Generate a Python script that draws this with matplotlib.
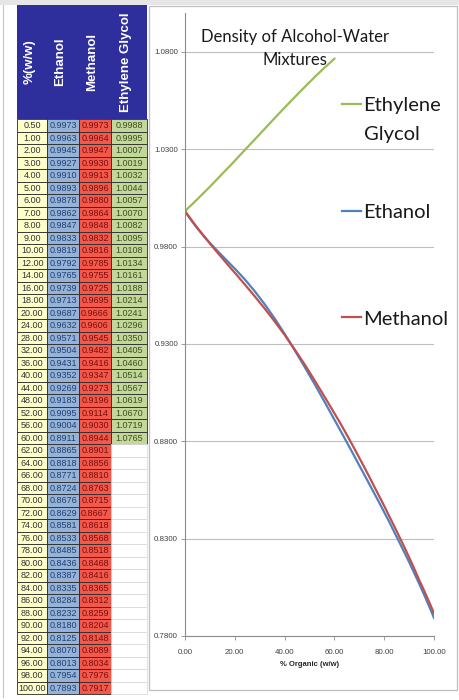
import matplotlib
matplotlib.use("Agg")
import matplotlib.pyplot as plt
from matplotlib.patches import Rectangle
from matplotlib.ticker import FormatStrFormatter

pct = [0.5, 1, 2, 3, 4, 5, 6, 7, 8, 9, 10, 12, 14, 16, 18, 20, 24, 28, 32, 36,
       40, 44, 48, 52, 56, 60, 62, 64, 66, 68, 70, 72, 74, 76, 78, 80, 82, 84,
       86, 88, 90, 92, 94, 96, 98, 100]
ethanol = [0.9973, 0.9963, 0.9945, 0.9927, 0.9910, 0.9893, 0.9878, 0.9862,
           0.9847, 0.9833, 0.9819, 0.9792, 0.9765, 0.9739, 0.9713, 0.9687,
           0.9632, 0.9571, 0.9504, 0.9431, 0.9352, 0.9269, 0.9183, 0.9095,
           0.9004, 0.8911, 0.8865, 0.8818, 0.8771, 0.8724, 0.8676, 0.8629,
           0.8581, 0.8533, 0.8485, 0.8436, 0.8387, 0.8335, 0.8284, 0.8232,
           0.8180, 0.8125, 0.8070, 0.8013, 0.7954, 0.7893]
methanol = [0.9973, 0.9964, 0.9947, 0.9930, 0.9913, 0.9896, 0.9880, 0.9864,
            0.9848, 0.9832, 0.9816, 0.9785, 0.9755, 0.9725, 0.9695, 0.9666,
            0.9606, 0.9545, 0.9482, 0.9416, 0.9347, 0.9273, 0.9196, 0.9114,
            0.9030, 0.8944, 0.8901, 0.8856, 0.8810, 0.8763, 0.8715, 0.8667,
            0.8618, 0.8568, 0.8518, 0.8468, 0.8416, 0.8365, 0.8312, 0.8259,
            0.8204, 0.8148, 0.8089, 0.8034, 0.7976, 0.7917]
glycol = [0.9988, 0.9995, 1.0007, 1.0019, 1.0032, 1.0044, 1.0057, 1.0070,
          1.0082, 1.0095, 1.0108, 1.0134, 1.0161, 1.0188, 1.0214, 1.0241,
          1.0296, 1.0350, 1.0405, 1.0460, 1.0514, 1.0567, 1.0619, 1.0670,
          1.0719, 1.0765]
headers = ["%(w/w)", "Ethanol", "Methanol", "Ethylene Glycol"]
x_ticks = [0, 20, 40, 60, 80, 100]
y_ticks = [0.78, 0.83, 0.88, 0.93, 0.98, 1.03, 1.08]

W, H = 460, 700
fig = plt.figure(figsize=(W / 100, H / 100), dpi=100)

# ---- spreadsheet table (pixel coordinates) ----
tab = fig.add_axes([0, 0, 1, 1])
tab.set_xlim(0, W)
tab.set_ylim(H, 0)
tab.axis("off")

tab.add_patch(Rectangle((0, 0), W, 5, color="#e6e6e6", lw=0))
tab.plot([3, 3], [5, 697], color="#c8c8c8", lw=0.8)

col_edges = [17, 47.5, 79, 111, 147]
fills = ["#ffffcc", "#95b3d7", "#f2594b", "#c4d79b"]
txt_cols = ["#333333", "#203f75", "#7a0c0c", "#3b4f1c"]
row_top, row_h = 119, 12.5
head_top = 5

tab.add_patch(Rectangle((col_edges[0], head_top), col_edges[-1] - col_edges[0],
                        row_top - head_top, color="#2e2e9c", lw=0))
for j, name in enumerate(headers):
    cx = (col_edges[j] + col_edges[j + 1]) / 2 - 3
    tab.text(cx, (head_top + row_top) / 2, name, rotation=90, color="white",
             fontsize=9.5, fontweight="bold", ha="center", va="center",
             family="Liberation Sans")

columns = [pct, ethanol, methanol, glycol]
for i in range(len(pct)):
    y0 = row_top + i * row_h
    for j, col in enumerate(columns):
        x0, x1 = col_edges[j], col_edges[j + 1]
        if i < len(col):
            tab.add_patch(Rectangle((x0, y0), x1 - x0, row_h, facecolor=fills[j],
                                    edgecolor="#2a2a2a", lw=0.6))
            label = "%.2f" % col[i] if j == 0 else "%.4f" % col[i]
            tab.text((x0 + x1) / 2, y0 + row_h / 2 + 0.5, label, color=txt_cols[j],
                     fontsize=6.5, ha="center", va="center",
                     family="Liberation Sans")
        else:
            tab.add_patch(Rectangle((x0, y0), x1 - x0, row_h, facecolor="white",
                                    edgecolor="#dadada", lw=0.6))

# chart area frame
tab.add_patch(Rectangle((149, 6), 308, 684, facecolor="white",
                        edgecolor="#bfbfbf", lw=0.9))

# ---- chart ----
ax = fig.add_axes([185 / W, 1 - 636 / H, (434 - 185) / W, (636 - 13) / H])
ax.set_facecolor("none")
l_eg, = ax.plot(pct[:len(glycol)], glycol, color="#9bbb59", lw=1.6)
l_et, = ax.plot(pct, ethanol, color="#4f81bd", lw=1.6)
l_me, = ax.plot(pct, methanol, color="#c0504d", lw=1.6)

ax.set_xlim(0, 100)
ax.set_ylim(0.78, 1.10)
ax.set_xticks(x_ticks)
ax.set_yticks(y_ticks)
ax.xaxis.set_major_formatter(FormatStrFormatter("%.2f"))
ax.yaxis.set_major_formatter(FormatStrFormatter("%.4f"))
ax.grid(axis="y", color="#bfbfbf", lw=0.8)
ax.set_axisbelow(True)
for s in ["top", "right"]:
    ax.spines[s].set_visible(False)
for s in ["left", "bottom"]:
    ax.spines[s].set_color("#8c8c8c")
    ax.spines[s].set_linewidth(0.8)
ax.tick_params(axis="both", direction="out", length=3, width=0.6,
               color="#8c8c8c", labelcolor="#404040", labelsize=5.7, pad=2)
ax.tick_params(axis="x", pad=6)
for t in ax.get_xticklabels() + ax.get_yticklabels():
    t.set_family("Liberation Sans")
ax.set_xlabel("% Organic (w/w)", fontsize=5.5, fontweight="bold",
              family="Liberation Sans", color="#262626", labelpad=4)

fig.text(295 / W, 1 - 48.5 / H, "Density of Alcohol-Water\nMixtures",
         ha="center", va="center", fontsize=12, family="Lato",
         linespacing=1.6, color="#1a1a1a")

leg = ax.legend([l_eg, l_et, l_me], ["Ethylene", "Ethanol", "Methanol"],
                loc="upper left", bbox_to_anchor=(342 / W, 1 - 97 / H),
                bbox_transform=fig.transFigure, frameon=False,
                prop={"family": "Lato", "size": 14.5}, handlelength=0.92,
                handletextpad=0.15, labelspacing=4.45, borderpad=0,
                borderaxespad=0)
for t in leg.get_texts():
    t.set_color("#1a1a1a")
# second line of the glycol label hangs under the first, like in the sheet
ax.annotate("Glycol", xy=(0, 0), xycoords=leg.get_texts()[0],
            xytext=(0, -8.5), textcoords="offset points", va="top",
            ha="left", fontsize=14.5, family="Lato", color="#1a1a1a",
            zorder=10, annotation_clip=False)

fig.savefig("out.png", dpi=100)
